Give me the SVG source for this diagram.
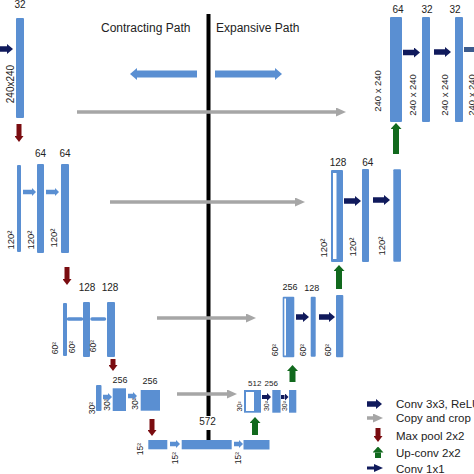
<svg xmlns="http://www.w3.org/2000/svg" width="474" height="474" viewBox="0 0 474 474">
<defs>
<marker id="hNavy" markerUnits="userSpaceOnUse" markerWidth="6" markerHeight="10" refX="0" refY="5" orient="auto"><path d="M0,0 L6,5 L0,10 z" fill="#101a5c"/></marker>
<marker id="hNavyS" markerUnits="userSpaceOnUse" markerWidth="4" markerHeight="8" refX="0" refY="4" orient="auto"><path d="M0,0 L4,4 L0,8 z" fill="#101a5c"/></marker>
<marker id="hGray" markerUnits="userSpaceOnUse" markerWidth="10" markerHeight="9" refX="0" refY="4.5" orient="auto"><path d="M0,0 L10,4.5 L0,9 z" fill="#a6a6a6"/></marker>
<marker id="hBlue" markerUnits="userSpaceOnUse" markerWidth="7" markerHeight="12" refX="0" refY="6" orient="auto"><path d="M0,0 L7,6 L0,12 z" fill="#5a8fd2"/></marker>
<marker id="hLb" markerUnits="userSpaceOnUse" markerWidth="4" markerHeight="8" refX="0" refY="4" orient="auto"><path d="M0,0 L4,4 L0,8 z" fill="#5a8fd2"/></marker>
<marker id="hRed" markerUnits="userSpaceOnUse" markerWidth="6" markerHeight="9" refX="0" refY="4.5" orient="auto"><path d="M0,0 L6,4.5 L0,9 z" fill="#7a0c10"/></marker>
<marker id="hGreen" markerUnits="userSpaceOnUse" markerWidth="6" markerHeight="11" refX="0" refY="5.5" orient="auto"><path d="M0,0 L6,5.5 L0,11 z" fill="#11691d"/></marker>
</defs>
<style>
.bar{fill:#5a8fd2}
.hole{fill:#ffffff}
.t{font-family:"Liberation Sans",Arial,sans-serif;fill:#222}
.n{font-size:10px;text-anchor:middle}
.r{font-size:9.5px;text-anchor:middle;dominant-baseline:central}
.title{font-size:12px}
.leg{font-size:11.5px}
.navy{stroke:#101a5c;stroke-width:5.5;fill:none;marker-end:url(#hNavy)}
.navyS{stroke:#101a5c;stroke-width:4;fill:none;marker-end:url(#hNavyS)}
.gray{stroke:#a6a6a6;stroke-width:3.5;fill:none;marker-end:url(#hGray)}
.blue{stroke:#5a8fd2;stroke-width:7;fill:none;marker-end:url(#hBlue)}
.lb{stroke:#5a8fd2;stroke-width:4.5;fill:none;marker-end:url(#hLb)}
.link{stroke:#5a8fd2;stroke-width:3.5;stroke-linecap:round;fill:none}
.red{stroke:#7a0c10;stroke-width:5;fill:none;marker-end:url(#hRed)}
.green{stroke:#11691d;stroke-width:6;fill:none;marker-end:url(#hGreen)}
.axis{stroke:#000;stroke-width:4}
</style>
<rect width="474" height="474" fill="#fff"/>

<g id="titles">
<text class="t title" x="101" y="32">Contracting Path</text>
<text class="t title" x="216" y="32">Expansive Path</text>
</g>

<g id="divider">
<line class="axis" x1="208.5" y1="14" x2="208.5" y2="416"/>
<line class="axis" x1="208.5" y1="430" x2="208.5" y2="440"/>
</g>

<g id="level1-contract">
<rect class="bar" x="16" y="18" width="8" height="100" rx="1"/>
<text class="t n" x="20" y="8">32</text>
<text class="t r" style="font-size:10px" transform="translate(10,84) rotate(-90)">240x240</text>
</g>

<g id="level2-contract">
<rect class="bar" x="17" y="165" width="4" height="87" rx="1"/>
<rect class="bar" x="37" y="164" width="7" height="89" rx="1"/>
<rect class="bar" x="61" y="164" width="8" height="89" rx="1"/>
<text class="t n" x="40.5" y="157">64</text>
<text class="t n" x="65" y="157">64</text>
<text class="t r" transform="translate(10,240) rotate(-90)">120²</text>
<text class="t r" transform="translate(30,240) rotate(-90)">120²</text>
<text class="t r" transform="translate(53,238) rotate(-90)">120²</text>
</g>

<g id="level3-contract">
<rect class="bar" x="63" y="303" width="4" height="53" rx="1"/>
<rect class="bar" x="83" y="302" width="7" height="55" rx="1"/>
<rect class="bar" x="107" y="302" width="8" height="55" rx="1"/>
<text class="t n" x="87" y="291">128</text>
<text class="t n" x="110" y="291">128</text>
<text class="t r" style="font-size:8.5px" transform="translate(55,348) rotate(-90)">60²</text>
<text class="t r" style="font-size:8.5px" transform="translate(71.7,347) rotate(-90)">60²</text>
<text class="t r" style="font-size:8.5px" transform="translate(93.3,346) rotate(-90)">60²</text>
</g>

<g id="level4-contract">
<rect class="bar" x="96" y="385" width="5.5" height="26" rx="1"/>
<rect class="bar" x="112.7" y="388.3" width="13.3" height="22.7"/>
<rect class="bar" x="140.7" y="390" width="19.3" height="20.7"/>
<text class="t n" style="font-size:9px" x="120" y="383">256</text>
<text class="t n" style="font-size:9px" x="150" y="384">256</text>
<text class="t r" style="font-size:8.5px" transform="translate(91.7,408) rotate(-90)">30²</text>
<text class="t r" style="font-size:8.5px" transform="translate(107.3,404.5) rotate(-90)">30²</text>
<text class="t r" style="font-size:8.5px" transform="translate(135,403.5) rotate(-90)">30²</text>
</g>

<g id="bottom">
<rect class="bar" x="148.3" y="440" width="19" height="9.3"/>
<rect class="bar" x="181.7" y="440" width="50" height="9.3"/>
<rect class="bar" x="243.5" y="440" width="26" height="9.5"/>
<text class="t n" x="207.5" y="424.5">572</text>
<text class="t r" style="font-size:8.5px" transform="translate(140,449) rotate(-90)">15²</text>
<text class="t r" style="font-size:8.5px" transform="translate(175,458) rotate(-90)">15²</text>
<text class="t r" style="font-size:8.5px" transform="translate(238.3,458) rotate(-90)">15²</text>
</g>

<g id="level4-expand">
<rect class="bar" x="244" y="390" width="17" height="22.7"/>
<rect class="hole" x="246" y="392" width="8" height="19"/>
<rect class="bar" x="272.3" y="390" width="8.3" height="22.7"/>
<rect class="bar" x="289" y="390" width="7.3" height="22.7"/>
<text class="t n" style="font-size:8px" x="254.7" y="386">512</text>
<text class="t n" style="font-size:8px" x="271.3" y="386">256</text>
<text class="t r" style="font-size:7px" transform="translate(239,406.5) rotate(-90)">30²</text>
<text class="t r" style="font-size:7px" transform="translate(266.7,406) rotate(-90)">30²</text>
<text class="t r" style="font-size:7px" transform="translate(284,406) rotate(-90)">30²</text>
</g>

<g id="level3-expand">
<rect class="bar" x="282.7" y="296.7" width="11.6" height="60.6" rx="1"/>
<rect class="hole" x="284.3" y="298.5" width="1.7" height="57"/>
<rect class="bar" x="310.7" y="296.7" width="5" height="60" rx="1"/>
<rect class="bar" x="336" y="295" width="7.3" height="62.3" rx="1"/>
<text class="t n" style="font-size:9px" x="290" y="290">256</text>
<text class="t n" style="font-size:9px" x="311.7" y="290.5">128</text>
<text class="t r" style="font-size:8.5px" transform="translate(275,350) rotate(-90)">60²</text>
<text class="t r" style="font-size:8.5px" transform="translate(303.3,350) rotate(-90)">60²</text>
<text class="t r" style="font-size:8.5px" transform="translate(328.3,350) rotate(-90)">60²</text>
</g>

<g id="level2-expand">
<rect class="bar" x="331" y="170" width="12" height="92" rx="1"/>
<rect class="hole" x="333" y="173" width="3.5" height="86"/>
<rect class="bar" x="362" y="169" width="7" height="93" rx="1"/>
<rect class="bar" x="393.3" y="169.3" width="7.7" height="92.4" rx="1"/>
<text class="t n" x="338" y="165.5">128</text>
<text class="t n" x="367.7" y="165.5">64</text>
<text class="t r" transform="translate(323.3,248) rotate(-90)">120²</text>
<text class="t r" transform="translate(352.7,247) rotate(-90)">120²</text>
<text class="t r" transform="translate(381.7,246) rotate(-90)">120²</text>
</g>

<g id="level1-expand">
<rect class="bar" x="390" y="17" width="12" height="105" rx="1"/>
<rect class="bar" x="422" y="17" width="8" height="105" rx="1"/>
<rect class="bar" x="455" y="17" width="8" height="105" rx="1"/>
<text class="t n" x="398" y="13">64</text>
<text class="t n" x="427" y="13">32</text>
<text class="t n" x="455" y="13">32</text>
<text class="t r" transform="translate(377,91) rotate(-90)">240 x 240</text>
<text class="t r" transform="translate(412,95) rotate(-90)">240 x 240</text>
<text class="t r" transform="translate(444.7,95) rotate(-90)">240 x 240</text>
<text class="t r" transform="translate(471,95) rotate(-90)">240 x 240</text>
</g>

<g id="connectors">
<line class="blue" x1="197" y1="74" x2="137" y2="74"/>
<line class="blue" x1="215" y1="74" x2="275" y2="74"/>
<line class="gray" x1="77" y1="112" x2="336" y2="112"/>
<line class="gray" x1="110" y1="202" x2="295" y2="202"/>
<line class="gray" x1="157" y1="318" x2="246" y2="318"/>
<line class="gray" x1="177" y1="394" x2="227" y2="394"/>
<line class="navy" x1="0" y1="49" x2="7" y2="49"/>
<line class="navy" x1="403" y1="52.5" x2="414" y2="52.5"/>
<line class="navy" x1="434" y1="52" x2="445" y2="52"/>
<line stroke="#3c5b8d" stroke-width="5" x1="464" y1="49.5" x2="474" y2="49.5"/>
<line class="navy" x1="344" y1="201" x2="355" y2="201"/>
<line class="navy" x1="373" y1="200" x2="384" y2="200"/>
<line class="navy" x1="296" y1="317" x2="303" y2="317"/>
<line class="navy" x1="319" y1="317" x2="329" y2="317"/>
<line class="navyS" x1="262" y1="397" x2="267" y2="397"/>
<line class="navyS" x1="281" y1="397" x2="284.5" y2="397"/>
<line class="lb" x1="23" y1="192" x2="32" y2="192"/>
<line class="lb" x1="46" y1="192" x2="55" y2="192"/>
<line class="link" x1="68.5" y1="319" x2="81.5" y2="319"/>
<line class="link" x1="92" y1="319" x2="104.5" y2="319"/>
<line class="lb" x1="103" y1="397" x2="108" y2="397"/>
<line class="lb" x1="128" y1="396" x2="133" y2="396"/>
<line class="lb" x1="170" y1="444" x2="176" y2="444"/>
<line class="lb" x1="234" y1="444" x2="239" y2="444"/>
<line class="red" x1="19" y1="124" x2="19" y2="136"/>
<line class="red" x1="67" y1="267" x2="67" y2="279"/>
<line class="red" x1="113" y1="359" x2="113" y2="365"/>
<line class="red" x1="152" y1="419" x2="152" y2="430"/>
<line class="green" x1="396" y1="154" x2="396" y2="129"/>
<line class="green" x1="339" y1="289" x2="339" y2="271"/>
<line class="green" x1="292.5" y1="382" x2="292.5" y2="371"/>
<line class="green" x1="255" y1="435" x2="255" y2="423"/>
</g>

<g id="legend">
<line class="navy" x1="367" y1="404" x2="376" y2="404"/>
<text class="t leg" x="396" y="408">Conv 3x3, ReLU</text>
<line class="gray" x1="367" y1="418" x2="373" y2="418"/>
<text class="t leg" x="396" y="422">Copy and crop</text>
<line class="red" x1="378" y1="428" x2="378" y2="436"/>
<text class="t leg" x="396" y="440">Max pool 2x2</text>
<line class="green" x1="378" y1="458" x2="378" y2="452.5"/>
<text class="t leg" x="396" y="457">Up-conv 2x2</text>
<path d="M367,466.5 L374,466.5 L374,464 L383,468 L374,472 L374,469.5 L367,469.5 z" fill="#101a5c"/>
<text class="t leg" x="396" y="473">Conv 1x1</text>
</g>
</svg>
